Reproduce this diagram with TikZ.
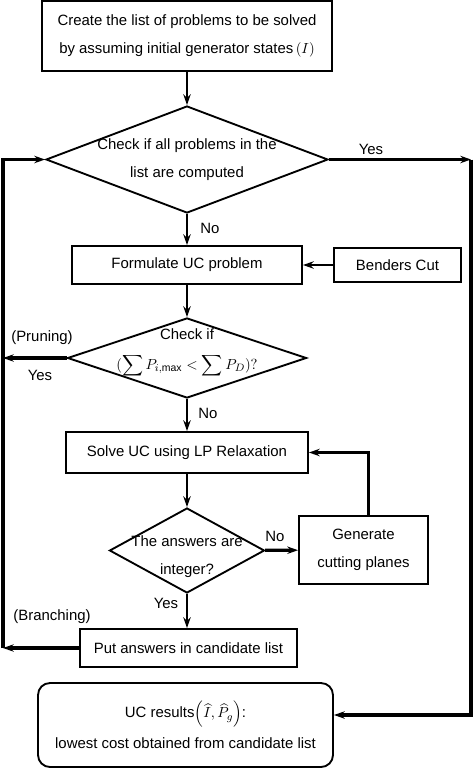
\documentclass[tikz,border=0pt]{standalone}
\usepackage{amsmath}
\usepackage{fontspec}
\setmainfont{Liberation Sans}
\usetikzlibrary{shapes.geometric,arrows.meta,calc}
\newcommand{\flowfont}{\fontsize{11.2pt}{21pt}\selectfont}
\tikzset{
  flowbox/.style={rectangle,draw,line width=1.4pt,inner sep=0pt,align=center,font=\flowfont},
  decision/.style={diamond,draw,line width=1.4pt,inner sep=0pt,aspect=2},
  flowlabel/.style={font=\flowfont,inner sep=1pt,align=center},
  flowarrow/.style={-{Stealth[length=8pt,width=5.5pt]},line width=1.6pt},
  looparrow/.style={-{Stealth[length=8pt,width=5.5pt]},line width=2.4pt},
}
\begin{document}
\begin{tikzpicture}[x=0.75pt,y=-0.75pt]
  \useasboundingbox (0,0) rectangle (474,769);
  % main column
  \node[flowbox,minimum width=218pt,minimum height=52.5pt] (create) at (187,36) {
    Create the list of problems to be solved\\by assuming initial generator states$\,(I)$};
  \node[decision,minimum width=211.5pt,minimum height=80.25pt] (check) at (187,159.5) {};
  \node[flowlabel] (checktext) at (187,160) {Check if all problems in the\\list are computed};
  \node[flowbox,minimum width=172.5pt,minimum height=28.5pt] (formulate) at (187,265) {Formulate UC problem};
  \node[flowbox,minimum width=95.25pt,minimum height=25.5pt] (benders) at (397.5,265) {Benders Cut};
  \node[decision,minimum width=179.25pt,minimum height=60pt] (capacity) at (187,358) {};
  \node[flowlabel] (capacitytext) at (187,353) {Check if\\[1pt]
    $(\displaystyle\sum P_{i,\max}<\sum P_D)?$};
  \node[flowbox,minimum width=181.5pt,minimum height=30.75pt] (solve) at (187,452.5) {Solve UC using LP Relaxation};
  \node[decision,minimum width=116.25pt,minimum height=63.75pt] (integer) at (187,550.5) {};
  \node[flowlabel] (integertext) at (187,556.5) {The answers are\\integer?};
  \node[flowbox,minimum width=96.75pt,minimum height=51pt] (cutting) at (363.5,550) {Generate\\cutting planes};
  \node[flowbox,minimum width=162.75pt,minimum height=28.5pt] (candidate) at (188.5,648) {Put answers in candidate list};
  \node[flowbox,rounded corners=9pt,minimum width=221.25pt,minimum height=63pt] (result) at (185.5,725) {
    UC results$\left(\widehat{I},\widehat{P}_{g}\right)$:\\[2pt]lowest cost obtained from candidate list};
  % corners of the outer loops
  \coordinate (yescorner) at (471,159.5);
  \coordinate (resultin) at (471,715);
  \coordinate (loopbottom) at (3,648);
  \coordinate (looptop) at (3,159.5);
  % labels
  \node[flowlabel] (yesdone) at (371,149) {Yes};
  \node[flowlabel] (nodone) at (210,228) {No};
  \node[flowlabel] (pruning) at (42,338) {(Pruning)};
  \node[flowlabel] (yesprune) at (40,375) {Yes};
  \node[flowlabel] (noprune) at (208,413) {No};
  \node[flowlabel] (nointeger) at (275,536) {No};
  \node[flowlabel] (yesinteger) at (166,603) {Yes};
  \node[flowlabel] (branching) at (52,617) {(Branching)};
  % connectors
  \draw[flowarrow] (create) -- (check);
  \draw[flowarrow] (check) -- (formulate);
  \draw[flowarrow] (benders) -- (formulate);
  \draw[flowarrow] (formulate) -- (capacity);
  \draw[flowarrow] (capacity) -- (solve);
  \draw[flowarrow] (solve) -- (integer);
  \draw[looparrow] (integer) -- (cutting);
  \draw[looparrow] ([xshift=4pt]cutting.north) |- (solve.east);
  \draw[flowarrow] (integer.south) -- (integer.south |- candidate.north);
  \draw[looparrow] (check) -- (yescorner);
  \draw[looparrow] (yescorner) -- (resultin) -- (resultin -| result.east);
  \draw[looparrow] (capacity) -- (capacity -| looptop);
  \draw[looparrow] (candidate) -- (loopbottom);
  \draw[looparrow] (loopbottom) -- (looptop) -- (check);
\end{tikzpicture}
\end{document}
